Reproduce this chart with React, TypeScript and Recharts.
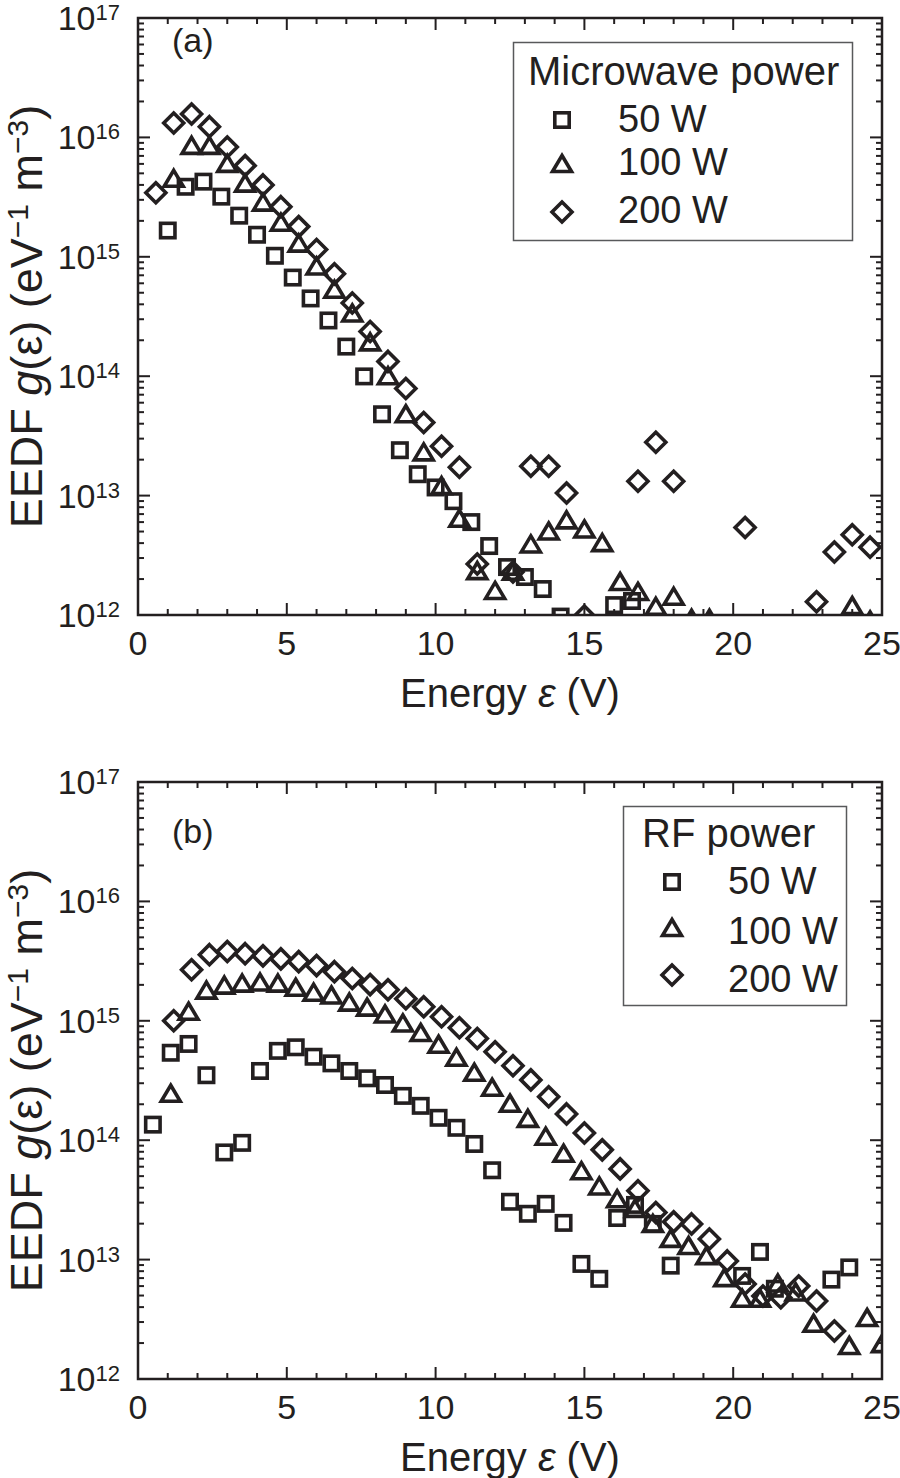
import React from "react";
import { ReferenceArea, Scatter, ScatterChart, XAxis, YAxis } from "recharts";

// EEDF g(ε) vs energy, microwave (a) and RF (b) discharge, three powers each.
type Pt = [number, number];

const INK = "#231f20";
const FONT = "'Liberation Sans', Arial, Helvetica, sans-serif";

// panel (a) – microwave power
const mw50: Pt[] = [
  [1.0, 1.66e15], [1.6, 3.86e15], [2.2, 4.26e15], [2.8, 3.19e15], [3.4, 2.21e15], [4.0, 1.53e15],
  [4.6, 1.02e15], [5.2, 6.7e14], [5.8, 4.48e14], [6.4, 2.93e14], [7.0, 1.77e14], [7.6, 9.96e13],
  [8.2, 4.8e13], [8.8, 2.4e13], [9.4, 1.51e13], [10.0, 1.17e13], [10.6, 8.98e12], [11.2, 6.0e12],
  [11.8, 3.78e12], [12.4, 2.52e12], [13.0, 2.08e12], [13.6, 1.65e12], [14.2, 0.97e12],
  [16.0, 1.21e12], [16.6, 1.31e12],
];
const mw100: Pt[] = [
  [1.2, 4.5e15], [1.8, 8.5e15], [2.4, 8.5e15], [3.0, 6.0e15], [3.6, 4.1e15], [4.2, 2.84e15],
  [4.8, 1.93e15], [5.4, 1.29e15], [6.0, 8.3e14], [6.6, 5.3e14], [7.2, 3.35e14], [7.8, 1.92e14],
  [8.4, 1.0e14], [9.0, 4.8e13], [9.6, 2.3e13], [10.2, 1.2e13], [10.8, 6.4e12], [11.4, 2.33e12],
  [12.0, 1.59e12], [12.6, 2.3e12], [13.2, 3.9e12], [13.8, 5.0e12], [14.4, 6.2e12], [15.0, 5.2e12],
  [15.6, 4.0e12], [16.2, 1.89e12], [16.8, 1.56e12], [17.4, 1.17e12], [18.0, 1.42e12],
  [18.6, 0.93e12], [19.2, 0.93e12], [24.0, 1.19e12], [24.6, 0.9e12],
];
const mw200: Pt[] = [
  [0.6, 3.44e15], [1.2, 1.32e16], [1.8, 1.57e16], [2.4, 1.23e16], [3.0, 8.3e15], [3.6, 5.8e15],
  [4.2, 4.0e15], [4.8, 2.63e15], [5.4, 1.79e15], [6.0, 1.15e15], [6.6, 7.2e14], [7.2, 4.1e14],
  [7.8, 2.37e14], [8.4, 1.33e14], [9.0, 7.9e13], [9.6, 4.1e13], [10.2, 2.59e13], [10.8, 1.73e13],
  [11.4, 2.67e12], [12.6, 2.29e12], [13.2, 1.76e13], [13.8, 1.76e13], [14.4, 1.05e13],
  [15.0, 0.98e12], [16.8, 1.32e13], [17.4, 2.8e13], [18.0, 1.32e13], [20.4, 5.4e12],
  [22.8, 1.29e12], [23.4, 3.37e12], [24.0, 4.7e12], [24.6, 3.7e12],
];

// panel (b) – RF power
const rf50: Pt[] = [
  [0.5, 1.35e14], [1.1, 5.4e14], [1.7, 6.4e14], [2.3, 3.5e14], [2.9, 7.9e13], [3.5, 9.5e13],
  [4.1, 3.8e14], [4.7, 5.6e14], [5.3, 6.0e14], [5.9, 5.0e14], [6.5, 4.4e14], [7.1, 3.8e14],
  [7.7, 3.3e14], [8.3, 2.9e14], [8.9, 2.35e14], [9.5, 1.94e14], [10.1, 1.54e14], [10.7, 1.27e14],
  [11.3, 9.3e13], [11.9, 5.6e13], [12.5, 3.05e13], [13.1, 2.42e13], [13.7, 2.93e13], [14.3, 2.03e13],
  [14.9, 9.2e12], [15.5, 6.9e12], [16.1, 2.23e13], [16.7, 2.87e13], [17.3, 1.99e13], [17.9, 8.9e12],
  [20.3, 7.3e12], [20.9, 1.16e13], [21.4, 5.7e12], [23.3, 6.8e12], [23.9, 8.6e12],
];
const rf100: Pt[] = [
  [1.1, 2.45e14], [1.7, 1.19e15], [2.3, 1.79e15], [2.9, 1.97e15], [3.5, 2.05e15], [4.1, 2.09e15],
  [4.7, 2.05e15], [5.3, 1.89e15], [5.9, 1.72e15], [6.5, 1.63e15], [7.1, 1.42e15], [7.7, 1.29e15],
  [8.3, 1.13e15], [8.9, 9.5e14], [9.5, 7.9e14], [10.1, 6.3e14], [10.7, 4.9e14], [11.3, 3.67e14],
  [11.9, 2.75e14], [12.5, 2.02e14], [13.1, 1.51e14], [13.7, 1.07e14], [14.3, 7.7e13], [14.9, 5.5e13],
  [15.5, 4.1e13], [16.1, 3.2e13], [16.7, 2.66e13], [17.3, 1.99e13], [17.9, 1.49e13], [18.5, 1.3e13],
  [19.1, 1.07e13], [19.7, 7.0e12], [20.3, 4.7e12], [20.9, 4.7e12], [21.5, 6.3e12], [22.1, 5.3e12],
  [22.7, 2.9e12], [23.9, 1.89e12], [24.5, 3.24e12], [25.0, 1.96e12],
];
const rf200: Pt[] = [
  [1.2, 1.0e15], [1.8, 2.68e15], [2.4, 3.58e15], [3.0, 3.8e15], [3.6, 3.65e15], [4.2, 3.5e15],
  [4.8, 3.3e15], [5.4, 3.13e15], [6.0, 2.9e15], [6.6, 2.58e15], [7.2, 2.26e15], [7.8, 2.01e15],
  [8.4, 1.82e15], [9.0, 1.53e15], [9.6, 1.31e15], [10.2, 1.08e15], [10.8, 8.75e14], [11.4, 7.1e14],
  [12.0, 5.5e14], [12.6, 4.2e14], [13.2, 3.2e14], [13.8, 2.31e14], [14.4, 1.66e14], [15.0, 1.15e14],
  [15.6, 8.3e13], [16.2, 5.75e13], [16.8, 3.77e13], [17.4, 2.48e13], [18.0, 2.07e13], [18.6, 1.99e13],
  [19.2, 1.49e13], [19.8, 9.75e12], [20.4, 6.25e12], [21.0, 4.96e12], [21.6, 4.8e12], [22.2, 6.0e12],
  [22.8, 4.5e12], [23.4, 2.52e12],
];

const powerLabels = ["50 W", "100 W", "200 W"];
const xTicks = Array.from({ length: 26 }, (_, i) => i);
const yTicks: number[] = [];
for (let e = 12; e < 17; e++) for (let m = 1; m <= 9; m++) yTicks.push(m * 10 ** e);
yTicks.push(1e17);

// geometry inside each chart
const W = 900;
const TOP = 18;
const BOTTOM = 615;
const LEFT = 138;
const RIGHT = 882;
const SW = 3.6;

const toObj = (pts: Pt[]) => pts.map(([x, y]) => ({ x, y }));

function SquareMark({ cx, cy, clip }: any) {
  return <rect x={cx - 7.2} y={cy - 7.2} width={14.4} height={14.4} fill="none" stroke={INK} strokeWidth={SW} clipPath={clip} />;
}
function TriangleMark({ cx, cy, clip }: any) {
  return (
    <path d={`M${cx},${cy - 8.5} L${cx + 9.5},${cy + 7.5} L${cx - 9.5},${cy + 7.5} Z`}
      fill="none" stroke={INK} strokeWidth={SW} strokeLinejoin="miter" clipPath={clip} />
  );
}
function DiamondMark({ cx, cy, clip }: any) {
  return (
    <path d={`M${cx},${cy - 10} L${cx + 10},${cy} L${cx},${cy + 10} L${cx - 10},${cy} Z`}
      fill="none" stroke={INK} strokeWidth={SW} clipPath={clip} />
  );
}
const marks = [SquareMark, TriangleMark, DiamondMark];

function XTick({ x, payload }: any) {
  const v = payload.value as number;
  const major = v % 5 === 0;
  const len = major ? 12 : 6;
  return (
    <g>
      <line x1={x} x2={x} y1={BOTTOM} y2={BOTTOM - len} stroke={INK} strokeWidth={2} />
      <line x1={x} x2={x} y1={TOP} y2={TOP + len} stroke={INK} strokeWidth={2} />
      {major && (
        <text x={x} y={BOTTOM + 40} textAnchor="middle" fontSize={34} fill={INK} fontFamily={FONT}>{v}</text>
      )}
    </g>
  );
}

function YTick({ y, payload }: any) {
  const v = payload.value as number;
  const exp = Math.round(Math.log10(v));
  const major = Math.abs(v / 10 ** exp - 1) < 1e-6;
  const len = major ? 12 : 6;
  return (
    <g>
      <line x1={LEFT} x2={LEFT + len} y1={y} y2={y} stroke={INK} strokeWidth={2} />
      <line x1={RIGHT} x2={RIGHT - len} y1={y} y2={y} stroke={INK} strokeWidth={2} />
      {major && (
        <text x={120} y={y + 12} textAnchor="end" fontSize={34} fill={INK} fontFamily={FONT}>
          10<tspan dy={-10} fontSize={22}>{exp}</tspan>
        </text>
      )}
    </g>
  );
}

const xTitle = () => (
  <text x={(LEFT + RIGHT) / 2} y={707} textAnchor="middle" fontSize={40} fill={INK} fontFamily={FONT}>
    Energy <tspan fontStyle="italic">ε</tspan> (V)
  </text>
);

const yTitle = () => {
  const cx = 42;
  const cy = (TOP + BOTTOM) / 2;
  return (
    <text x={cx} y={cy} transform={`rotate(-90 ${cx} ${cy})`} textAnchor="middle" fontSize={45} fill={INK} fontFamily={FONT}>
      EEDF <tspan fontStyle="italic">g</tspan>(ε) (eV<tspan dy={-14} fontSize={30}>−1</tspan>
      <tspan dy={14}> m</tspan><tspan dy={-14} fontSize={30}>−3</tspan><tspan dy={14}>)</tspan>
    </text>
  );
};

function Panel({ series, height }: { series: Pt[][]; height: number }) {
  return (
    <ScatterChart width={W} height={height} margin={{ top: TOP, right: W - RIGHT, left: 0, bottom: 0 }}>
      <XAxis
        type="number" dataKey="x" domain={[0, 25]} ticks={xTicks} interval={0} allowDataOverflow
        tickSize={0} tickMargin={0} axisLine={false} tickLine={false}
        height={height - BOTTOM} tick={<XTick />} label={{ content: xTitle }}
      />
      <YAxis
        type="number" dataKey="y" scale="log" domain={[1e12, 1e17]} allowDataOverflow
        ticks={yTicks} interval={0} tickSize={0} tickMargin={0} axisLine={false} tickLine={false}
        width={LEFT} tick={<YTick />} label={{ content: yTitle }}
      />
      <ReferenceArea x1={0} x2={25} y1={1e12} y2={1e17} fill="none" stroke={INK} strokeWidth={2.5} fillOpacity={0} />
      {series.map((pts, i) => {
        const M = marks[i];
        return (
          <Scatter key={i} name={powerLabels[i]} data={toObj(pts)} isAnimationActive={false}
            shape={(p: any) => <M cx={p.cx} cy={p.cy} clip="url(#eedfPlotClip)" />} />
        );
      })}
    </ScatterChart>
  );
}

function LegendBox({ x, y, w, h, title, titleX, titleY, markX, markYs, textX, textYs }: any) {
  return (
    <g fontFamily={FONT} fill={INK}>
      <rect x={x} y={y} width={w} height={h} fill="#fff" stroke="#58595b" strokeWidth={1.5} />
      <text x={titleX} y={titleY} fontSize={40}>{title}</text>
      {powerLabels.map((lab, i) => {
        const M = marks[i];
        return (
          <g key={lab}>
            <M cx={markX} cy={markYs[i]} />
            <text x={textX} y={textYs[i]} fontSize={38}>{lab}</text>
          </g>
        );
      })}
    </g>
  );
}

export default function App() {
  return (
    <div style={{ position: "absolute", left: 0, top: 0, width: 900, height: 1478, background: "#fff", fontFamily: FONT }}>
      <div style={{ position: "absolute", left: 0, top: 0 }}>
        <Panel series={[mw50, mw100, mw200]} height={739} />
      </div>
      <div style={{ position: "absolute", left: 0, top: 764 }}>
        <Panel series={[rf50, rf100, rf200]} height={714} />
      </div>
      <svg width={900} height={1478} style={{ position: "absolute", left: 0, top: 0, pointerEvents: "none" }}>
        <defs>
          {/* same plot rectangle in each chart's own coordinates */}
          <clipPath id="eedfPlotClip" clipPathUnits="userSpaceOnUse">
            <rect x={LEFT} y={TOP} width={RIGHT - LEFT} height={BOTTOM - TOP} />
          </clipPath>
        </defs>
        <text x={172} y={52} fontSize={34} fill={INK} fontFamily={FONT}>(a)</text>
        <text x={172} y={843} fontSize={34} fill={INK} fontFamily={FONT}>(b)</text>
        <LegendBox x={513.5} y={42.5} w={339} h={198} title="Microwave power" titleX={528} titleY={85}
          markX={562} markYs={[120, 164, 212]} textX={618} textYs={[132, 175, 223]} />
        <LegendBox x={623.5} y={806.5} w={223} h={199} title="RF power" titleX={642} titleY={847}
          markX={672} markYs={[882, 928, 975]} textX={728} textYs={[894, 944, 992]} />
      </svg>
    </div>
  );
}
